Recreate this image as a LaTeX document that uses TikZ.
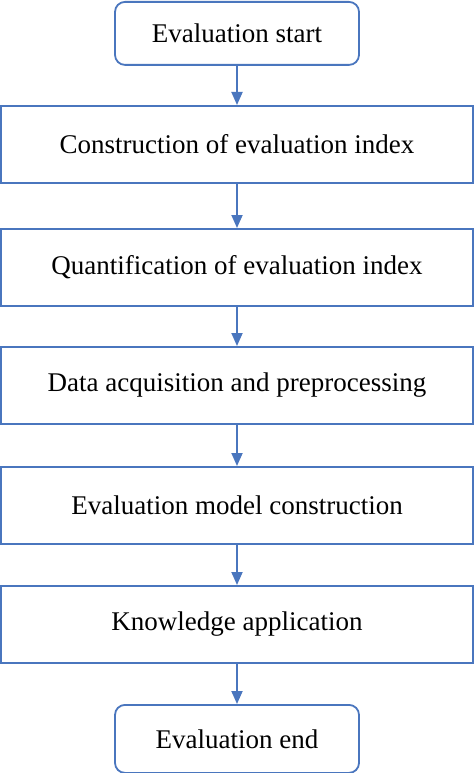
\documentclass[tikz,border=0pt]{standalone}
\usepackage{fontspec}
\setmainfont{Liberation Serif}
\usetikzlibrary{arrows.meta}
\definecolor{lineblue}{RGB}{74,118,190}
\begin{document}
\begin{tikzpicture}[x=1pt,y=-1pt,
  boxstyle/.style={draw=lineblue,line width=1.8pt,minimum width=472pt,minimum height=77pt,inner sep=0pt,font=\fontsize{27}{31}\selectfont,anchor=north},
  termstyle/.style={draw=lineblue,line width=1.8pt,rounded corners=10pt,minimum width=244pt,inner sep=0pt,font=\fontsize{27}{31}\selectfont,anchor=north},
  arr/.style={draw=lineblue,line width=1.8pt,-{Triangle[length=13pt,width=11pt]}}]
\useasboundingbox (0,0) rectangle (474,773);
\fill[white] (0,0) rectangle (474,773);
\node[termstyle,minimum height=63pt] (s) at (237,1) {Evaluation start};
\node[boxstyle] (b1) at (237,105) {Construction of evaluation index};
\node[boxstyle] (b2) at (237,228) {Quantification of evaluation index};
\node[boxstyle] (b3) at (237,346) {Data acquisition and preprocessing};
\node[boxstyle] (b4) at (237,466) {Evaluation model construction};
\node[boxstyle] (b5) at (237,585) {Knowledge application};
\node[termstyle,minimum height=68pt] (e) at (237,704) {Evaluation end};
\draw[arr] (s) -- (b1);
\draw[arr] (b1) -- (b2);
\draw[arr] (b2) -- (b3);
\draw[arr] (b3) -- (b4);
\draw[arr] (b4) -- (b5);
\draw[arr] (b5) -- (e);
\end{tikzpicture}
\end{document}
